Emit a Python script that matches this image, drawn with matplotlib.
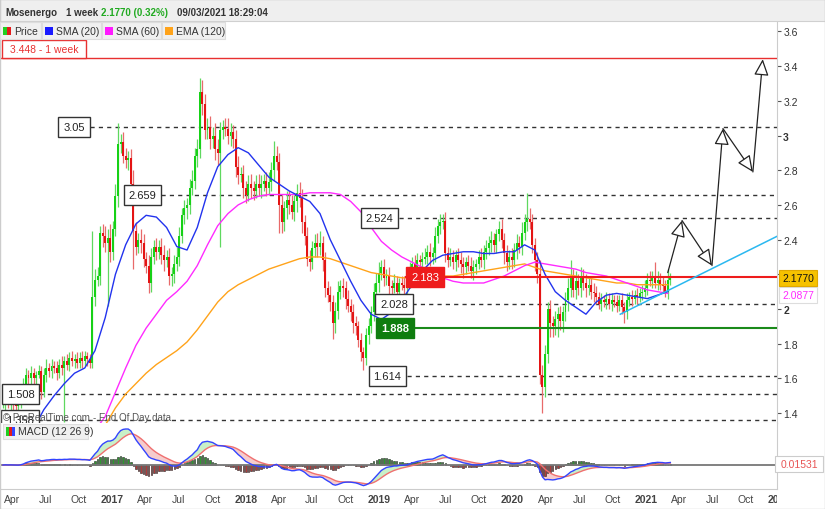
import numpy as np
import pandas as pd
import matplotlib
matplotlib.use('Agg')
import matplotlib.pyplot as plt
import matplotlib.dates as mdates
from matplotlib.patches import Rectangle
from matplotlib.transforms import blended_transform_factory

plt.rcParams['font.family'] = ['Liberation Sans', 'DejaVu Sans']

# Mosenergo, velas semanales desde el 07/03/2016
first_week = '2016-03-07'
closes = [
    1.46, 1.48, 1.45, 1.47, 1.45, 1.44, 1.46, 1.50, 1.55, 1.62,
    1.60, 1.63, 1.60, 1.62, 1.64, 1.52, 1.62, 1.66, 1.64, 1.67,
    1.66, 1.63, 1.68, 1.66, 1.70, 1.68, 1.72, 1.70, 1.71, 1.69,
    1.72, 1.70, 1.73, 1.71, 1.69, 2.07, 2.17, 2.19, 2.44, 2.42,
    2.38, 2.41, 2.33, 2.46, 2.65, 2.95, 2.96, 2.88, 2.86, 2.87,
    2.72, 2.45, 2.36, 2.40, 2.38, 2.29, 2.25, 2.15, 2.30, 2.36,
    2.33, 2.36, 2.31, 2.28, 2.30, 2.19, 2.20, 2.26, 2.30, 2.42,
    2.54, 2.58, 2.60, 2.70, 2.74, 2.88, 2.92, 3.25, 3.18, 3.03,
    3.05, 2.98, 3.00, 2.92, 2.90, 3.03, 3.05, 3.04, 3.00, 3.02,
    2.98, 2.82, 2.77, 2.78, 2.70, 2.66, 2.72, 2.70, 2.68, 2.72,
    2.70, 2.72, 2.74, 2.70, 2.73, 2.80, 2.88, 2.85, 2.60, 2.50,
    2.58, 2.63, 2.60, 2.56, 2.62, 2.67, 2.64, 2.50, 2.42, 2.29,
    2.27, 2.35, 2.38, 2.36, 2.38, 2.28, 2.12, 2.08, 2.04, 1.92,
    1.99, 2.10, 2.13, 2.12, 2.06, 2.02, 1.98, 1.92, 1.90, 1.82,
    1.75, 1.72, 1.85, 1.90, 1.98, 2.10, 2.15, 2.21, 2.24, 2.18,
    2.19, 2.13, 2.12, 2.15, 2.10, 2.15, 2.14, 2.12, 2.16, 2.22,
    2.26, 2.24, 2.28, 2.27, 2.29, 2.30, 2.33, 2.30, 2.32, 2.42,
    2.48, 2.50, 2.51, 2.32, 2.28, 2.30, 2.27, 2.31, 2.28, 2.26,
    2.24, 2.27, 2.25, 2.22, 2.24, 2.26, 2.30, 2.28, 2.33, 2.35,
    2.38, 2.40, 2.37, 2.43, 2.46, 2.40, 2.32, 2.27, 2.30, 2.28,
    2.34, 2.38, 2.36, 2.44, 2.50, 2.52, 2.50, 2.37, 2.28, 2.20,
    1.62, 1.55, 1.74, 2.00, 1.92, 1.90, 1.94, 1.97, 1.93, 1.98,
    2.05, 2.12, 2.18, 2.11, 2.16, 2.12, 2.19, 2.15, 2.12, 2.14,
    2.10, 2.09, 2.07, 2.03, 2.05, 2.04, 2.06, 2.03, 2.05, 2.04,
    2.02, 2.05, 2.01, 1.98, 2.05, 2.07, 2.06, 2.08, 2.07, 2.09,
    2.10, 2.12, 2.17, 2.16, 2.18, 2.15, 2.17, 2.14, 2.13, 2.10,
    2.17, 2.177,
]
# mechas por encima y por debajo del cuerpo
wick_up = [
    .03, .02, .04, .03, .02, .03, .04, .03, .05, .04,
    .03, .04, .03, .02, .04, .03, .04, .05, .03, .04,
    .03, .04, .03, .05, .03, .04, .03, .04, .03, .04,
    .03, .04, .03, .02, .03, .38, .06, .05, .04, .05,
    .06, .05, .08, .05, .07, .12, .05, .06, .05, .04,
    .05, .08, .05, .04, .06, .05, .04, .06, .05, .04,
    .05, .04, .05, .06, .04, .05, .04, .05, .06, .05,
    .04, .05, .04, .05, .06, .05, .06, .08, .07, .06,
    .05, .06, .05, .07, .06, .05, .04, .05, .06, .05,
    .04, .05, .06, .04, .05, .04, .05, .06, .04, .05,
    .06, .05, .04, .05, .06, .05, .09, .06, .05, .06,
    .04, .05, .05, .06, .04, .05, .06, .05, .04, .05,
    .05, .04, .05, .06, .07, .04, .05, .04, .05, .04,
    .05, .06, .04, .05, .04, .05, .04, .05, .04, .03,
    .04, .03, .04, .05, .04, .05, .06, .06, .04, .05,
    .04, .05, .04, .05, .04, .03, .04, .05, .04, .05,
    .04, .05, .04, .03, .04, .05, .04, .05, .04, .05,
    .04, .05, .04, .05, .04, .05, .04, .03, .04, .05,
    .04, .03, .04, .05, .04, .03, .04, .05, .04, .05,
    .04, .05, .04, .03, .05, .06, .04, .05, .04, .05,
    .04, .05, .04, .06, .05, .15, .06, .05, .04, .05,
    .08, .06, .05, .04, .05, .04, .05, .04, .05, .04,
    .05, .06, .10, .05, .06, .04, .05, .04, .05, .04,
    .04, .05, .04, .03, .04, .03, .04, .03, .04, .03,
    .04, .03, .04, .03, .04, .03, .04, .03, .04, .03,
    .04, .05, .04, .05, .04, .09, .05, .04, .05, .04,
    .06, .03,
]
wick_dn = [
    .03, .04, .02, .03, .04, .03, .02, .03, .04, .03,
    .04, .03, .04, .03, .02, .04, .03, .04, .03, .04,
    .03, .04, .03, .04, .31, .03, .04, .03, .04, .03,
    .03, .04, .03, .04, .03, .03, .05, .04, .05, .06,
    .05, .36, .06, .05, .04, .06, .05, .04, .05, .06,
    .04, .22, .05, .04, .06, .05, .04, .06, .05, .04,
    .05, .04, .05, .06, .04, .05, .06, .05, .04, .05,
    .04, .05, .06, .05, .04, .05, .06, .05, .06, .05,
    .05, .06, .05, .06, .07, .54, .05, .04, .05, .06,
    .05, .06, .05, .04, .06, .05, .04, .06, .05, .04,
    .05, .06, .04, .05, .04, .05, .06, .05, .16, .06,
    .05, .06, .05, .04, .05, .06, .05, .06, .05, .04,
    .05, .04, .05, .06, .05, .06, .05, .04, .05, .09,
    .06, .05, .04, .05, .06, .04, .05, .06, .05, .04,
    .05, .07, .04, .05, .04, .05, .04, .05, .04, .05,
    .04, .05, .04, .03, .05, .04, .03, .04, .05, .04,
    .04, .05, .04, .05, .04, .03, .04, .05, .04, .05,
    .04, .05, .04, .05, .04, .03, .04, .05, .04, .05,
    .06, .04, .03, .04, .05, .04, .03, .04, .05, .04,
    .04, .05, .04, .05, .04, .05, .06, .05, .04, .05,
    .04, .05, .04, .05, .04, .05, .04, .05, .06, .05,
    .05, .15, .06, .05, .08, .06, .05, .10, .05, .06,
    .05, .06, .05, .04, .05, .04, .05, .04, .05, .04,
    .04, .05, .04, .03, .04, .03, .04, .03, .04, .03,
    .04, .03, .04, .06, .04, .03, .04, .03, .04, .03,
    .04, .03, .04, .03, .04, .03, .04, .03, .04, .03,
    .04, .03,
]

# medias moviles leidas cada 4 semanas (None = fuera del grafico)
sma20 = [None, None, None, 1.31, 1.42, 1.50, 1.57, 1.63, 1.66, 1.76,
         1.95, 2.20, 2.37, 2.49, 2.54, 2.53, 2.47, 2.36, 2.34, 2.47,
         2.67, 2.82, 2.89, 2.93, 2.90, 2.83, 2.76, 2.72, 2.68, 2.65,
         2.62, 2.55, 2.40, 2.28, 2.16, 2.05, 1.97, 1.94, 1.98, 2.05,
         2.14, 2.22, 2.28, 2.31, 2.32, 2.33, 2.33, 2.32, 2.32, 2.33,
         2.33, 2.37, 2.34, 2.20, 2.10, 2.05, 2.01, 1.97, 2.04, 2.08,
         2.09, 2.08, 2.07, 2.06, 2.08, 2.10]
sma60 = [None, None, None, None, None, None, None, None, None, 1.30,
         1.38, 1.52, 1.66, 1.79, 1.89, 1.97, 2.05, 2.10, 2.16, 2.25,
         2.37, 2.48, 2.55, 2.60, 2.63, 2.65, 2.66, 2.66, 2.66, 2.66,
         2.67, 2.67, 2.67, 2.66, 2.62, 2.56, 2.47, 2.39, 2.34, 2.30,
         2.27, 2.24, 2.21, 2.18, 2.16, 2.15, 2.15, 2.15, 2.17, 2.19,
         2.22, 2.25, 2.27, 2.26, 2.25, 2.24, 2.23, 2.21, 2.20, 2.19,
         2.17, 2.15, 2.13, 2.11, 2.10, 2.09]
ema120 = [None, None, None, None, None, None, None, None, None, None,
          1.33, 1.43, 1.51, 1.57, 1.63, 1.68, 1.72, 1.76, 1.81, 1.88,
          1.96, 2.04, 2.10, 2.14, 2.17, 2.20, 2.23, 2.25, 2.27, 2.29,
          2.30, 2.30, 2.29, 2.27, 2.25, 2.23, 2.21, 2.20, 2.19, 2.18,
          2.18, 2.18, 2.19, 2.19, 2.19, 2.20, 2.21, 2.22, 2.23, 2.24,
          2.25, 2.26, 2.24, 2.22, 2.21, 2.20, 2.19, 2.18, 2.17, 2.16,
          2.15, 2.15, 2.14, 2.14, 2.14, 2.14]

# niveles horizontales
levels = [3.05, 2.659, 2.524, 2.028, 1.614, 1.508, 1.358]
level_text = ['3.05', '2.659', '2.524', '2.028', '1.614', '1.508', '1.358']
red_level = 2.183
green_level = 1.888
week_high = 3.448

# proyeccion con flechas y linea de tendencia
proj_dates = ['2021-03-01', '2021-04-09', '2021-06-30', '2021-07-30', '2021-10-20', '2021-11-16']
proj_prices = [2.21, 2.51, 2.25, 3.04, 2.79, 3.44]
trend_dates = ['2020-10-22', '2021-12-26']
trend_prices = [1.97, 2.42]

price_ticks = [1.4, 1.6, 1.8, 2.0, 2.2, 2.4, 2.6, 2.8, 3.0, 3.2, 3.4, 3.6]
last_price = '2.1770'
last_sma60 = '2.0877'
last_ema120 = '2.1402'
last_macd = '0.01531'

W, H = 825, 510
PLOT_W = 777


def fx(px):
    return px / W


def fy(py):
    return 1 - py / H


fig = plt.figure(figsize=(W / 100, H / 100), dpi=100)
fig.patch.set_facecolor('white')

xmin = mdates.datestr2num('2016-02-28')
xmax = mdates.datestr2num('2021-12-25')

# --- Panel de precio ---
ax = fig.add_axes([0, fy(424), fx(PLOT_W), (424 - 22) / H])
ax.set_xlim(xmin, xmax)
ax.set_ylim(1.343, 3.66)
bt = blended_transform_factory(ax.transAxes, ax.transData)

dates = pd.date_range(first_week, periods=len(closes), freq='7D')
x = mdates.date2num(dates)
c = np.array(closes)
o = np.r_[c[0], c[:-1]]
hi = np.maximum(o, c) + np.array(wick_up)
lo = np.minimum(o, c) - np.array(wick_dn)
up = c >= o

ax.vlines(x[up], lo[up], hi[up], color='#5fd85f', lw=0.9, zorder=2)
ax.vlines(x[~up], lo[~up], hi[~up], color='#e86a6a', lw=0.9, zorder=2)
body = np.maximum(np.abs(c - o), 0.008)
ax.bar(x, body, bottom=np.minimum(o, c), width=5.4,
       color=np.where(up, '#16d116', '#e41414'), lw=0, zorder=3)

ma_dates = mdates.date2num(pd.date_range(first_week, periods=len(sma20), freq='28D'))
ax.plot(ma_dates, np.array(ema120, dtype=float), color='#ffa31a', lw=1, zorder=4)
ax.plot(ma_dates, np.array(sma60, dtype=float), color='#ff2bff', lw=1, zorder=4)
ax.plot(ma_dates, np.array(sma20, dtype=float), color='#2233ee', lw=1, zorder=4)

# niveles discontinuos con su etiqueta
box_px = [(58, 90), (124, 161), (360, 399), (376, 412), (368, 407), (2, 39), (2, 38)]
for lvl, txt, (x0, x1) in zip(levels, level_text, box_px):
    ax.plot([x1 / PLOT_W, 1], [lvl, lvl], transform=bt, color='#333333',
            lw=1, ls=(0, (3, 3)), zorder=1.5, clip_on=True)
    ax.text((x0 + x1) / 2 / PLOT_W, lvl, txt, transform=bt, ha='center', va='center',
            fontsize=8, color='#222222', zorder=6, clip_on=True,
            bbox=dict(boxstyle='square,pad=0.45', fc='white', ec='#333333', lw=1))

ax.plot([406 / PLOT_W, 1], [red_level, red_level], transform=bt, color='#ee1c1c', lw=1.5, zorder=5)
ax.text(425 / PLOT_W, red_level, '2.183', transform=bt, ha='center', va='center',
        fontsize=8, color='white', zorder=6,
        bbox=dict(boxstyle='square,pad=0.45', fc='#ee1c1c', ec='#ee1c1c', lw=1))
ax.plot([413 / PLOT_W, 1], [green_level, green_level], transform=bt, color='#1a8a1a', lw=1.5, zorder=5)
ax.text(395 / PLOT_W, green_level, '1.888', transform=bt, ha='center', va='center',
        fontsize=8, color='white', zorder=6, fontweight='bold',
        bbox=dict(boxstyle='square,pad=0.45', fc='#0f7d0f', ec='#0f7d0f', lw=1))

ax.plot([0, 1], [week_high, week_high], transform=bt, color='#e83030', lw=1, zorder=5)
ax.add_patch(Rectangle((2 / PLOT_W, week_high), 84 / PLOT_W, 0.104, transform=bt,
                       fc='white', ec='#e83030', lw=1, zorder=6))
ax.text(44 / PLOT_W, week_high + 0.052, '3.448 - 1 week', transform=bt, ha='center',
        va='center', fontsize=7.5, color='#e83030', zorder=7)

# linea de tendencia y proyeccion
ax.plot(mdates.datestr2num(trend_dates), trend_prices, color='#2ab8f0', lw=1.1, zorder=5)
pd_num = mdates.datestr2num(proj_dates)
for i in range(len(pd_num) - 1):
    ax.annotate('', xy=(pd_num[i + 1], proj_prices[i + 1]), xytext=(pd_num[i], proj_prices[i]),
                arrowprops=dict(arrowstyle='-|>,head_length=1.0,head_width=0.45',
                                fc='white', ec='#222222', lw=0.9, shrinkA=0, shrinkB=0),
                zorder=6)

ax.text(3 / PLOT_W, 1.375, '\u00a9 ProRealTime.com', transform=bt, fontsize=7,
        color='#555555', va='center', zorder=7)
ax.text(93 / PLOT_W, 1.375, '- End Of Day data', transform=bt, fontsize=7,
        color='#555555', va='center', zorder=7)

ax.yaxis.tick_right()
ax.set_yticks(price_ticks)
ax.set_yticklabels(['%g' % t for t in price_ticks])
for t, lab in zip(price_ticks, ax.get_yticklabels()):
    if float(t).is_integer():
        lab.set_fontweight('bold')
ax.tick_params(axis='y', labelsize=7.5, labelcolor='#333333', color='#555555',
               length=3, width=0.8, pad=1.5)
ax.set_xticks([])
for s in ['top', 'left']:
    ax.spines[s].set_visible(False)
ax.spines['right'].set_color('#cccccc')
ax.spines['bottom'].set_color('#cccccc')

# --- Panel MACD ---
axm = fig.add_axes([0, fy(490), fx(PLOT_W), (490 - 424) / H])
axm.set_xlim(xmin, xmax)
s = pd.Series(c)
macd = (s.ewm(span=12, adjust=False).mean() - s.ewm(span=26, adjust=False).mean()).values
sig = pd.Series(macd).ewm(span=9, adjust=False).mean().values
hist = macd - sig
k = max(macd.max(), sig.max()) / 36
axm.set_ylim(-24 * k, 42 * k)

axm.fill_between(x, macd, sig, where=macd >= sig, color='#c8f0c8', lw=0, interpolate=True)
axm.fill_between(x, macd, sig, where=macd < sig, color='#f6cccc', lw=0, interpolate=True)
axm.bar(x, hist, width=4.0, color=np.where(hist >= 0, '#2e9a2e', '#b03a3a'),
        edgecolor='#222222', lw=0.4, zorder=2)
axm.axhline(0, color='#777777', lw=1.3, zorder=3)
axm.plot(x, sig, color='#f07070', lw=1, zorder=4)
axm.plot(x, macd, color='#3344ff', lw=1, zorder=4)
axm.set_xticks([])
axm.set_yticks([])
for sp in ['top', 'left']:
    axm.spines[sp].set_visible(False)
axm.spines['right'].set_color('#cccccc')
axm.spines['bottom'].set_color('#cccccc')

# etiquetas del eje temporal (recortadas en el borde derecho)
axx = fig.add_axes([0, 0, fx(PLOT_W), 20 / H])
axx.set_xlim(xmin, xmax)
axx.set_ylim(0, 1)
axx.axis('off')
quarters = pd.date_range('2016-04-01', '2022-01-01', freq='QS')
for d in quarters:
    if d.month == 1:
        lab, fw = str(d.year), 'bold'
    else:
        lab, fw = d.strftime('%b'), 'normal'
    axx.text(mdates.date2num(d), 0.5, lab, ha='center', va='center', fontsize=7.5,
             color='#444444', fontweight=fw, clip_on=True)

# --- cabecera y leyendas ---
fig.add_artist(Rectangle((0, fy(22)), 1, 22 / H, transform=fig.transFigure,
                         fc='#efefef', ec='#d0d0d0', lw=0.8))
hy = fy(13)
fig.text(fx(5), hy, 'Mosenergo', fontsize=7, fontweight='bold', color='#333333', va='center')
fig.text(fx(66), hy, '1 week', fontsize=7, fontweight='bold', color='#333333', va='center')
fig.text(fx(101), hy, '2.1770 (0.32%)', fontsize=7, fontweight='bold', color='#22aa22', va='center')
fig.text(fx(177), hy, '09/03/2021 18:29:04', fontsize=7, fontweight='bold', color='#333333', va='center')

legend = [('Price', None, 0, 41), ('SMA (20)', '#1a1aff', 42, 101),
          ('SMA (60)', '#ff1aff', 102, 161), ('EMA (120)', '#ffa31a', 162, 225)]
for name, col, x0, x1 in legend:
    fig.add_artist(Rectangle((fx(x0), fy(40)), (x1 - x0) / W, 17 / H, transform=fig.transFigure,
                             fc='#f0f0f0', ec='#dddddd', lw=0.8, zorder=10))
    if col is None:
        fig.add_artist(Rectangle((fx(x0 + 3), fy(36)), 4 / W, 8 / H, transform=fig.transFigure,
                                 fc='#1fcf1f', lw=0, zorder=11))
        fig.add_artist(Rectangle((fx(x0 + 7), fy(36)), 4 / W, 8 / H, transform=fig.transFigure,
                                 fc='#e41b1b', lw=0, zorder=11))
    else:
        fig.add_artist(Rectangle((fx(x0 + 3), fy(36)), 8 / W, 8 / H, transform=fig.transFigure,
                                 fc=col, lw=0, zorder=11))
    fig.text(fx(x0 + 14), fy(32), name, fontsize=7.5, color='#333333', va='center', zorder=12)

fig.add_artist(Rectangle((fx(3), fy(440)), 85 / W, 15 / H, transform=fig.transFigure,
                         fc='#f0f0f0', ec='#dddddd', lw=0.8, zorder=10))
for j, col in enumerate(['#1fcf1f', '#e41b1b', '#3344ff']):
    fig.add_artist(Rectangle((fx(6 + 3 * j), fy(437)), 3 / W, 9 / H, transform=fig.transFigure,
                             fc=col, lw=0, zorder=11))
fig.text(fx(18), fy(432), 'MACD (12 26 9)', fontsize=7.5, color='#333333', va='center', zorder=12)

# cajas de valores a la derecha
def value_box(py, txt, fc, ec, tc, z):
    fig.add_artist(Rectangle((fx(779), fy(py + 8)), 38 / W, 16 / H, transform=fig.transFigure,
                             fc=fc, ec=ec, lw=0.8, zorder=z))
    fig.text(fx(798), fy(py), txt, fontsize=7.5, color=tc, ha='center', va='center', zorder=z + 0.5)

value_box(288, last_ema120, 'white', '#dddddd', '#ffa31a', 20)
value_box(296, last_sma60, 'white', '#dddddd', '#ff2bff', 21)
value_box(279, last_price, '#f6c200', '#e0a800', '#111111', 22)

fig.add_artist(Rectangle((fx(775), fy(473)), 48 / W, 16 / H, transform=fig.transFigure,
                         fc='white', ec='#cccccc', lw=0.8, zorder=20))
fig.text(fx(799), fy(465), last_macd, fontsize=7.5, color='#e85555', ha='center', va='center', zorder=21)

fig.add_artist(Rectangle((0, 0), 1, 1, transform=fig.transFigure, fill=False, ec='#cccccc', lw=1))

fig.savefig('out.png', dpi=100)
